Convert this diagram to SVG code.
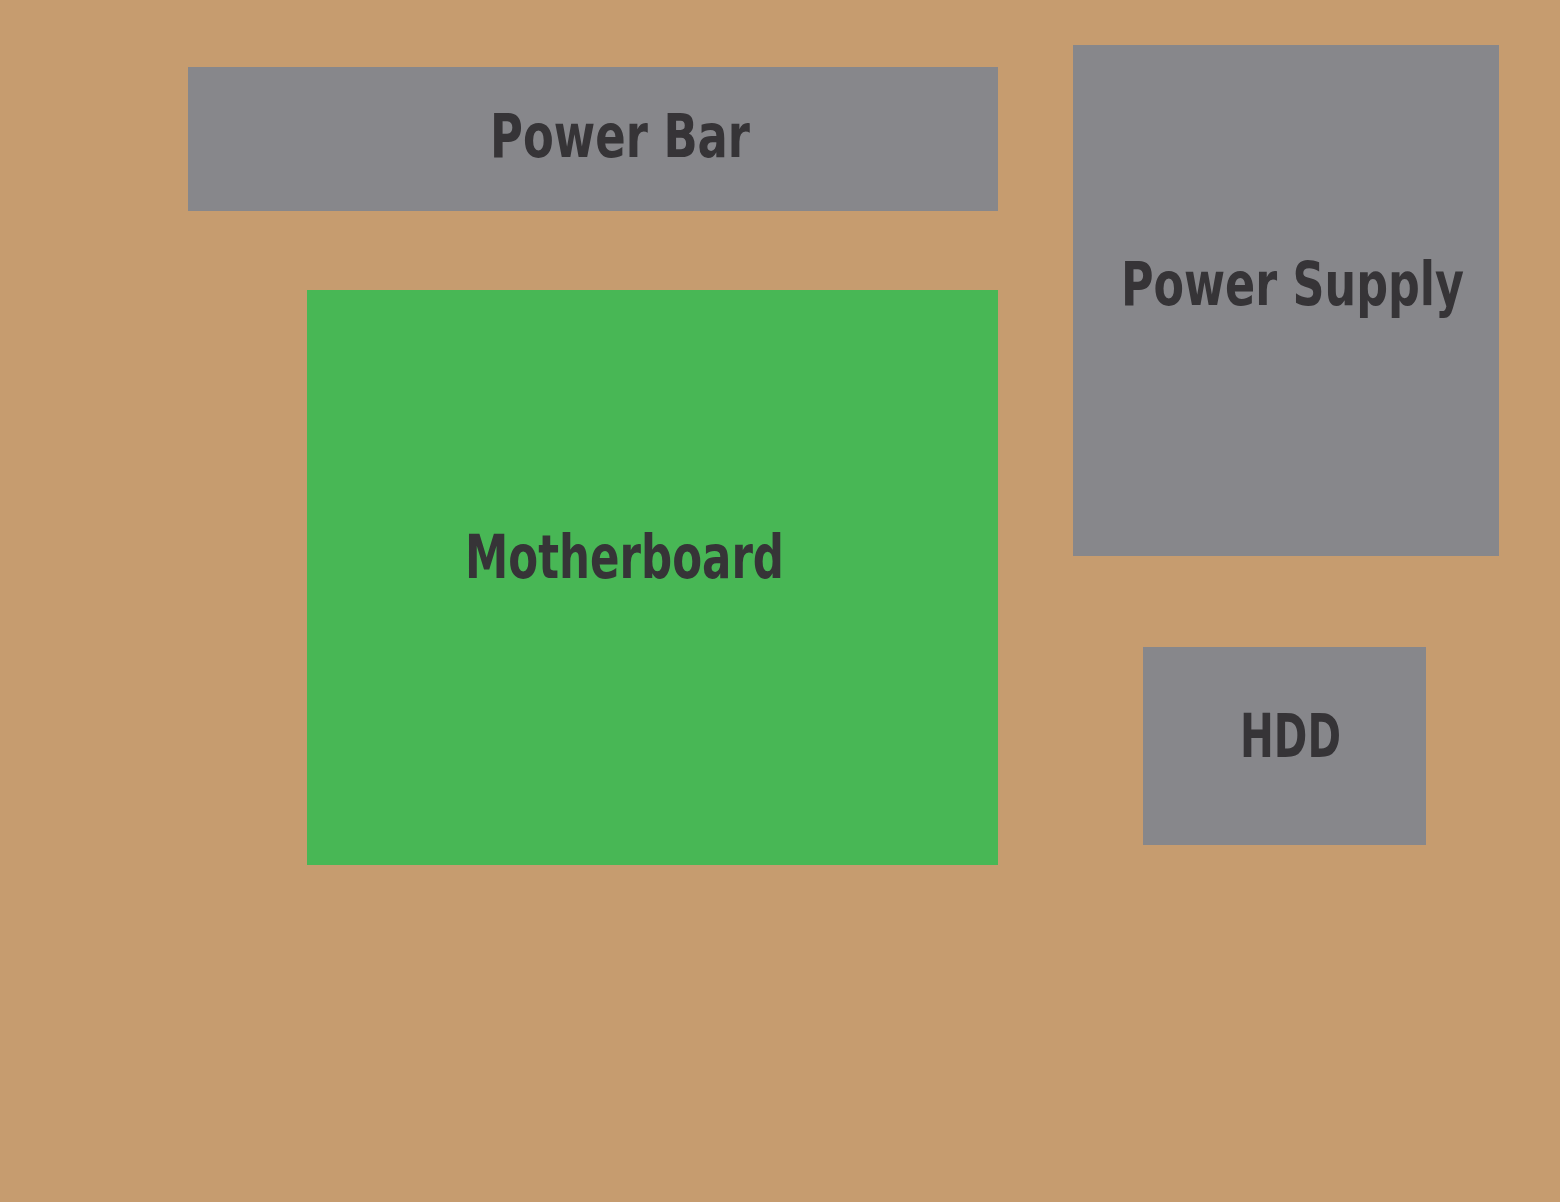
<svg xmlns="http://www.w3.org/2000/svg" width="1560" height="1202" viewBox="0 0 1560 1202">
<style>
.g{fill:#87878b}
.t{font-family:"DejaVu Sans Condensed","Liberation Sans Narrow","Liberation Sans",sans-serif;font-weight:bold;font-size:60px;fill:#363437;font-stretch:condensed}
</style>
<rect width="1560" height="1202" fill="#c69c6f"/>
<g id="powerbar"><rect class="g" x="188" y="67" width="810" height="144"/><text class="t" x="490" y="157" textLength="260" lengthAdjust="spacingAndGlyphs">Power Bar</text></g>
<g id="powersupply"><rect class="g" x="1073" y="45" width="426" height="511"/><text class="t" x="1121" y="305" textLength="343" lengthAdjust="spacingAndGlyphs">Power Supply</text></g>
<g id="motherboard"><rect x="307" y="290" width="691" height="575" fill="#48b755"/><text class="t" x="465" y="578" textLength="319" lengthAdjust="spacingAndGlyphs">Motherboard</text></g>
<g id="hdd"><rect class="g" x="1143" y="647" width="283" height="198"/><text class="t" x="1240" y="757" textLength="101" lengthAdjust="spacingAndGlyphs">HDD</text></g>
<g id="connectors"/>
</svg>
